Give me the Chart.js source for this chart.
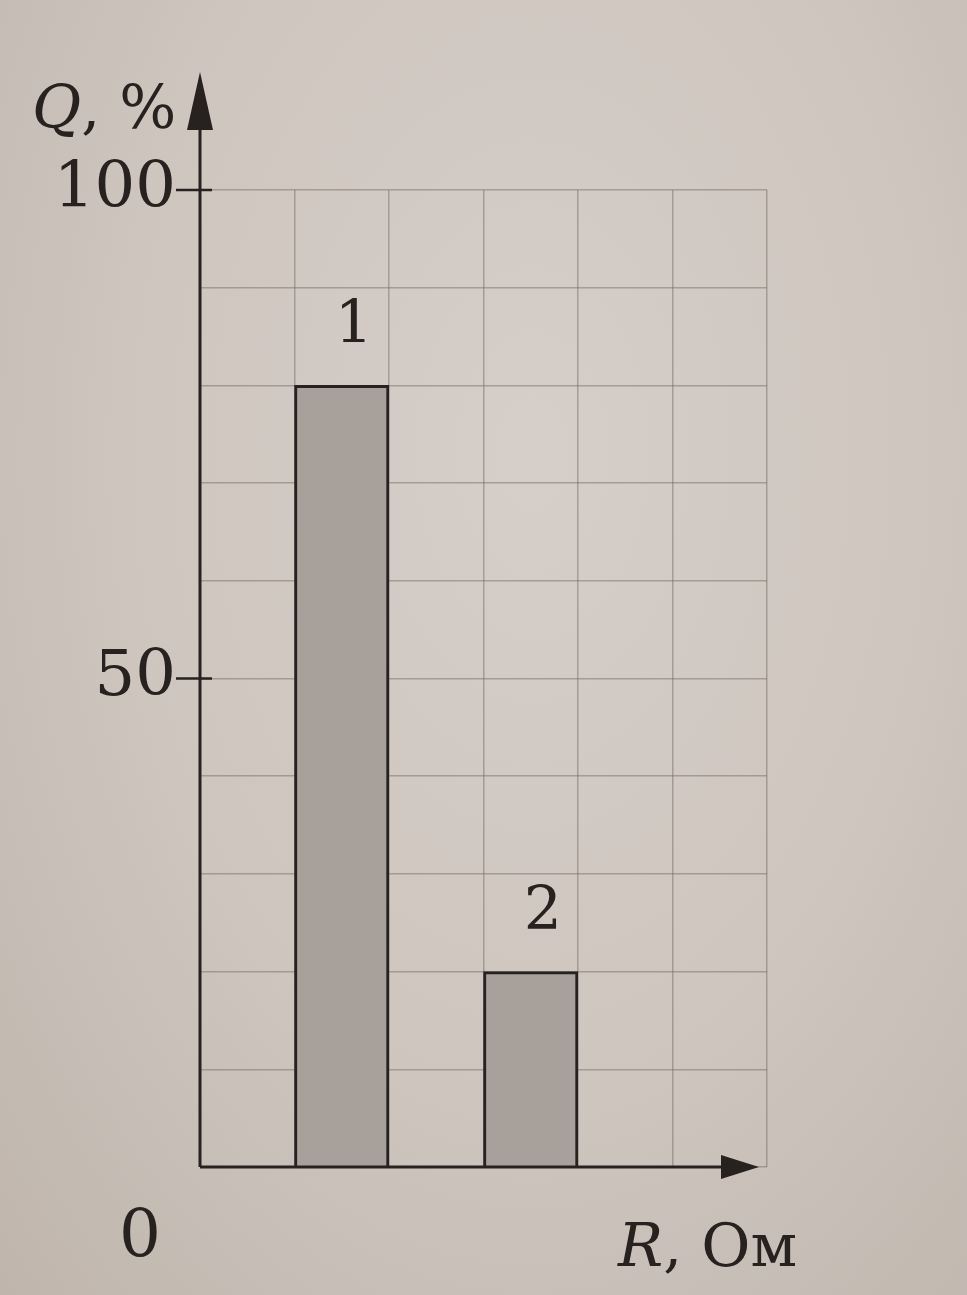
<!DOCTYPE html>
<html lang="ru">
<head>
<meta charset="utf-8">
<title>Q, % — R, Ом</title>
<script src="https://cdn.jsdelivr.net/npm/chart.js@4/dist/chart.umd.min.js"></script>
<style>
  html, body { margin: 0; padding: 0; }
  body {
    width: 967px; height: 1295px; overflow: hidden;
    background: radial-gradient(ellipse at 55% 35%, #d6cec8 0%, #cdc5be 55%, #bfb5ad 100%);
  }
  #wrap { position: relative; width: 967px; height: 1295px; }
</style>
</head>
<body>
<div id="wrap"><canvas id="chart" width="967" height="1295"></canvas></div>
<script>
// ============ DATA ============
const columns = ['', '1', '', '2', '', ''];        // номер столбика над ним
const shares = [null, 80, null, 20, null, null];    // Q, %
const labeledTicks = [50, 100];                     // подписанные деления оси Q
const yMax = 100, yStep = 10;

// ============ STYLE ============
const INK = '#272120';
const GRID = 'rgba(120,110,104,0.5)';
const SERIF = '"DejaVu Serif", "Liberation Serif", serif';

// оси со стрелками, деления и подписи
const axesPlugin = {
  id: 'axesDecor',
  afterDraw(chart) {
    const { ctx, chartArea: a, scales: { y } } = chart;
    ctx.save();
    ctx.strokeStyle = INK; ctx.fillStyle = INK; ctx.lineWidth = 3;

    // ось Q вверх
    ctx.beginPath(); ctx.moveTo(a.left, a.bottom); ctx.lineTo(a.left, 110); ctx.stroke();
    ctx.beginPath();
    ctx.moveTo(a.left, 72); ctx.lineTo(a.left - 13, 130); ctx.lineTo(a.left + 13, 130);
    ctx.closePath(); ctx.fill();

    // ось R вправо
    const tipX = a.right - 8;
    ctx.beginPath(); ctx.moveTo(a.left, a.bottom); ctx.lineTo(tipX - 20, a.bottom); ctx.stroke();
    ctx.beginPath();
    ctx.moveTo(tipX, a.bottom); ctx.lineTo(tipX - 38, a.bottom - 12); ctx.lineTo(tipX - 38, a.bottom + 12);
    ctx.closePath(); ctx.fill();

    // деления 50 и 100
    ctx.lineWidth = 2.5;
    labeledTicks.forEach(v => {
      const py = y.getPixelForValue(v);
      ctx.beginPath(); ctx.moveTo(a.left - 24, py); ctx.lineTo(a.left + 12, py); ctx.stroke();
    });

    // номера над столбиками
    ctx.font = `60px ${SERIF}`;
    ctx.textAlign = 'center'; ctx.textBaseline = 'bottom';
    chart.getDatasetMeta(0).data.forEach((bar, i) => {
      if (shares[i] == null) return;
      ctx.fillText(columns[i], bar.x + 12, bar.y - 28);
    });

    // 0 в начале координат
    ctx.textAlign = 'center'; ctx.textBaseline = 'alphabetic';
    ctx.font = `66px ${SERIF}`;
    ctx.fillText('0', 140, 1256);

    // Q, %
    ctx.textAlign = 'left';
    ctx.font = `italic 60px ${SERIF}`;
    ctx.fillText('Q', 32, 128);
    let w = ctx.measureText('Q').width;
    ctx.font = `60px ${SERIF}`;
    ctx.fillText(', %', 32 + w, 128);

    // R, Ом
    ctx.font = `italic 60px ${SERIF}`;
    ctx.fillText('R', 618, 1266);
    w = ctx.measureText('R').width;
    ctx.font = `60px ${SERIF}`;
    ctx.fillText(', Ом', 618 + w, 1266);

    ctx.restore();
  }
};

new Chart(document.getElementById('chart'), {
  type: 'bar',
  data: {
    labels: columns,
    datasets: [{
      data: shares,
      backgroundColor: '#a8a09b',
      borderColor: INK,
      borderWidth: 3,
      borderSkipped: 'bottom',
      barPercentage: 1,
      categoryPercentage: 1,
    }],
  },
  options: {
    responsive: false,
    animation: false,
    devicePixelRatio: 1,
    layout: { padding: { top: 190, right: 200, bottom: 128, left: 0 } },
    plugins: { legend: { display: false }, tooltip: { enabled: false } },
    scales: {
      x: {
        offset: true,
        grid: { offset: true, color: GRID, lineWidth: 1.5, drawTicks: false },
        border: { display: false },
        ticks: { display: false },
      },
      y: {
        min: 0, max: yMax,
        afterFit(s) { s.width = 200; },
        grid: { color: GRID, lineWidth: 1.5, drawTicks: false },
        border: { display: false },
        ticks: {
          stepSize: yStep,
          padding: 24,
          color: INK,
          font: { family: SERIF, size: 64 },
          callback: v => labeledTicks.includes(v) ? String(v) : '',
        },
      },
    },
  },
  plugins: [axesPlugin],
});
</script>
</body>
</html>
